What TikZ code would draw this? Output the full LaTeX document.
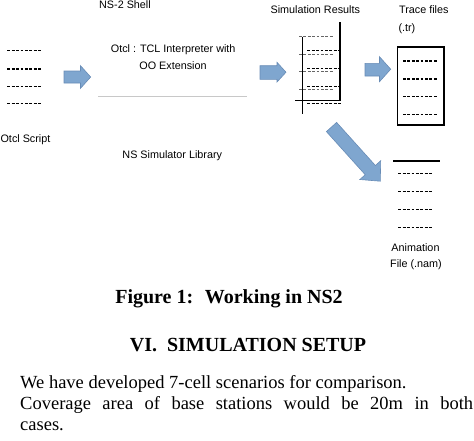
\documentclass[tikz,border=0pt]{standalone}
\usepackage{fontspec}
\setmainfont{Liberation Serif}
\newfontfamily\diagfont{Liberation Sans}
\definecolor{arrowfill}{RGB}{127,166,207}
\definecolor{arrowdraw}{RGB}{104,140,182}
\definecolor{sepgray}{RGB}{200,200,200}
\begin{document}
\begin{tikzpicture}[x=1pt,y=-1pt,
  lbl/.style={font=\diagfont\fontsize{10.8}{13}\selectfont, inner sep=0pt, anchor=base},
  dashrow/.style={line width=1.1pt, dash pattern=on 2.8pt off 1.6pt},
  thinrow/.style={line width=0.8pt, black!60, dash pattern=on 2.8pt off 1.6pt},
  solidline/.style={line width=1.2pt},
  blockarrow/.style={fill=arrowfill, draw=arrowdraw, line width=0.6pt, line join=miter},
  capt/.style={font=\bfseries\fontsize{20}{24}\selectfont, inner sep=0pt, anchor=base},
  bodytext/.style={font=\fontsize{18.5}{21}\selectfont, inner sep=0pt, anchor=base west}]
\useasboundingbox (0,0) rectangle (474,440);
\clip (0,0) rectangle (474,440);

% ---- texts of the diagram
\node[lbl] (shell) at (125,8.7) {NS-2 Shell};
\node[lbl] (otcl1) at (173.2,52.7) {Otcl : TCL Interpreter with};
\node[lbl] (otcl2) at (173,69.3) {OO Extension};
\node[lbl] (lib) at (172.3,158.3) {NS Simulator Library};
\node[lbl] (script) at (25.5,142.7) {Otcl Script};
\node[lbl] (simres) at (315.3,13.3) {Simulation Results};
\node[lbl] (trace1) at (423.8,13.3) {Trace files};
\node[lbl, anchor=base west] (trace2) at (398.3,31) {(.tr)};
\node[lbl] (anim1) at (415.5,251.5) {Animation};
\node[lbl] (anim2) at (416,267.5) {File (.nam)};

% ---- separator line in the shell
\draw[sepgray, line width=0.8pt] (98,96.7) -- (247,96.7);

% ---- Otcl script dashes
\foreach \y in {50.7,69,86.3,103.7}
  \draw[dashrow] (7.3,\y) -- (41.7,\y);

% ---- simulation results stack
\foreach \y in {36.7,54,71.5,89.5}
  \draw[thinrow] (299,\y) -- (333,\y);
\draw[solidline] (340,22.3) -- (340,100.7) -- (295,100.7);
\draw[solidline] (302.3,36.7) -- (302.3,114.3);
\foreach \y in {50.7,68.7,86.3,103.7}
  \draw[dashrow] (307.3,\y) -- (341.7,\y);

% ---- trace file
\draw[solidline] (397.7,47) rectangle (444,125);
\foreach \y in {61,79,96.7,114.3}
  \draw[dashrow] (403,\y) -- (436.7,\y);

% ---- animation file
\draw[line width=1.5pt] (393.3,161) -- (440,161);
\foreach \y in {173.5,191.7,209.5,227.5}
  \draw[dashrow] (398.3,\y) -- (433.3,\y);

% ---- block arrows
\path[blockarrow] (64,71) -- (80.5,71) -- (80.5,65.7) -- (90.7,77) -- (80.5,88.3) -- (80.5,83) -- (64,83) -- cycle;
\path[blockarrow] (260,65.7) -- (277,65.7) -- (277,62.3) -- (286,72.2) -- (277,82) -- (277,79.3) -- (260,79.3) -- cycle;
\path[blockarrow] (365,63.3) -- (379.5,63.3) -- (379.5,56.7) -- (390.7,69.2) -- (379.5,81.7) -- (379.5,76) -- (365,76) -- cycle;
\path[blockarrow] (336.6,122.4) -- (375.4,165.5) -- (380.7,160.7) -- (380.3,181.2) -- (359.9,179.5) -- (365.2,174.7) -- (326.4,131.6) -- cycle;

% ---- caption and body text
\node[capt] (caption) at (229,303.3) {Figure 1:~ Working in NS2};
\node[capt] (section) at (248,351.7) {VI.~ SIMULATION SETUP};
\node[bodytext] (line1) at (20,388) {We have developed 7-cell scenarios for comparison.};
\node[bodytext] (line2) at (20,409) {\makebox[453pt][s]{Coverage area of base stations would be 20m in both}};
\node[bodytext] (line3) at (20,430) {cases.};
\end{tikzpicture}
\end{document}
